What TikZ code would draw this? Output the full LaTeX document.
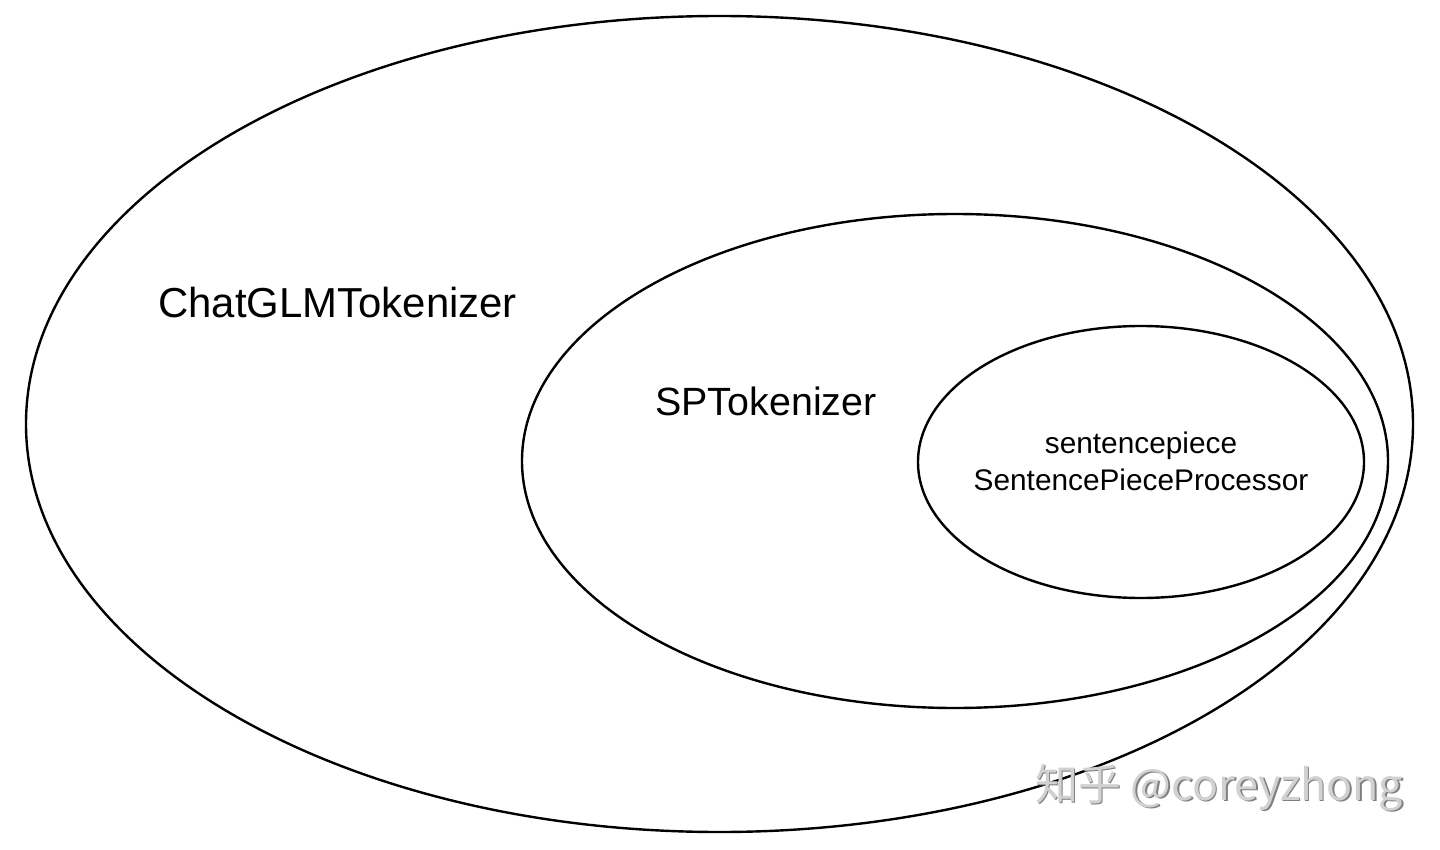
\documentclass[tikz,border=0pt]{standalone}
\usepackage{fontspec}
\setmainfont{Liberation Sans}
\newfontfamily\cjk{Noto Sans CJK SC}
\usetikzlibrary{shapes.geometric}
\tikzset{
  ring/.style={ellipse, draw=black, line width=2.4pt, inner sep=0pt},
  lbl/.style={anchor=base, inner sep=0pt, text=black},
  wm/.style={anchor=base west, inner sep=0pt, font={\cjk\fontsize{43}{43}\selectfont}}
}
\begin{document}
\begin{tikzpicture}[x=1pt, y=-1pt]
\useasboundingbox (0,0) rectangle (1440,850);
\fill[white] (0,0) rectangle (1440,850);
\node[ring, minimum width=1387pt, minimum height=816pt] (outer) at (719.5,424) {};
\node[ring, minimum width=866pt, minimum height=494pt] (middle) at (955,461) {};
\node[ring, minimum width=446pt, minimum height=272pt] (inner) at (1141,462) {};
\node[lbl, font={\fontsize{41.9}{45}\selectfont}] (chat) at (337.5,317) {ChatGLMTokenizer};
\node[lbl, font={\fontsize{39.4}{42}\selectfont}] (sp) at (766,415) {SPTokenizer};
\node[lbl, font={\fontsize{29.8}{33}\selectfont}] (spa) at (1141,453) {sentencepiece};
\node[lbl, font={\fontsize{29.8}{33}\selectfont}] (spb) at (1141,490) {SentencePieceProcessor};
\node[wm, text=black!50] (wmshadow) at (1036.5,801.5) {知乎 @coreyzhong};
\node[wm, text=black!18] (wmtext) at (1035,800) {知乎 @coreyzhong};
\end{tikzpicture}
\end{document}
